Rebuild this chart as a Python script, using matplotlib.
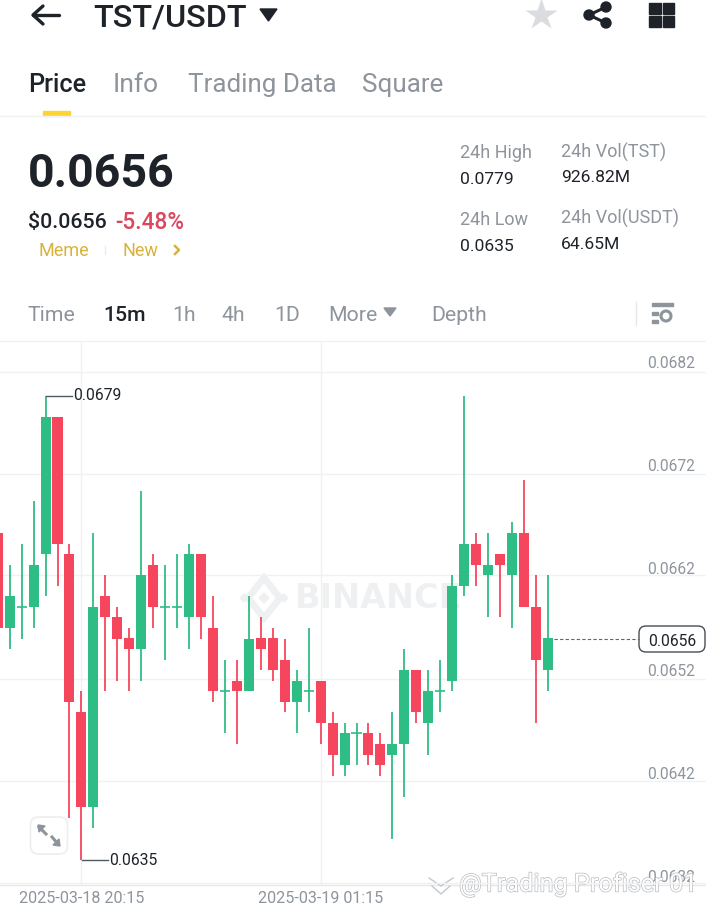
import matplotlib
matplotlib.use("Agg")
import matplotlib.pyplot as plt
import matplotlib.patheffects as pe
from matplotlib.patches import FancyBboxPatch, Polygon, Rectangle, Circle

plt.rcParams["font.family"] = ["Roboto", "DejaVu Sans"]

GREEN = "#2EBD85"
RED = "#F6465D"
DARK = "#1E2329"
GRAY = "#8E949C"
GRID = "#F0F1F2"
GOLD = "#D8B23A"
MARK = "#EFF0F1"

# candles, 15m (price ticks of 0.0001)
opens = [0.0666, 0.0657, 0.0659, 0.0659, 0.0664, 0.0677, 0.0664, 0.0649, 0.0640, 0.0660,
         0.0658, 0.0656, 0.0655, 0.0663, 0.0659, 0.0659, 0.0658, 0.0664, 0.0657, 0.0651,
         0.0652, 0.0651, 0.0656, 0.0656, 0.0654, 0.0650, 0.0651, 0.0652, 0.0648, 0.0644,
         0.0647, 0.0647, 0.0646, 0.0645, 0.0646, 0.0653, 0.0648, 0.0651, 0.0652, 0.0661,
         0.0665, 0.0662, 0.0664, 0.0662, 0.0666, 0.0659, 0.0653]
highs = [0.0666, 0.0663, 0.0665, 0.0669, 0.0679, 0.0677, 0.0665, 0.0651, 0.0666, 0.0662,
         0.0659, 0.0657, 0.0670, 0.0664, 0.0663, 0.0664, 0.0665, 0.0664, 0.0660, 0.0654,
         0.0654, 0.0660, 0.0658, 0.0657, 0.0656, 0.0653, 0.0657, 0.0652, 0.0649, 0.0648,
         0.0648, 0.0648, 0.0647, 0.0649, 0.0655, 0.0653, 0.0653, 0.0654, 0.0662, 0.0679,
         0.0666, 0.0666, 0.0664, 0.0667, 0.0671, 0.0662, 0.0662]
lows = [0.0657, 0.0655, 0.0656, 0.0657, 0.0660, 0.0661, 0.0639, 0.0635, 0.0638, 0.0651,
        0.0652, 0.0651, 0.0652, 0.0657, 0.0654, 0.0657, 0.0655, 0.0656, 0.0650, 0.0647,
        0.0646, 0.0651, 0.0653, 0.0652, 0.0649, 0.0647, 0.0649, 0.0646, 0.0643, 0.0643,
        0.0644, 0.0644, 0.0643, 0.0637, 0.0641, 0.0648, 0.0645, 0.0649, 0.0651, 0.0660,
        0.0661, 0.0658, 0.0658, 0.0657, 0.0659, 0.0648, 0.0651]
closes = [0.0657, 0.0660, 0.0659, 0.0663, 0.0677, 0.0665, 0.0650, 0.0640, 0.0659, 0.0658,
          0.0656, 0.0655, 0.0662, 0.0659, 0.0659, 0.0659, 0.0664, 0.0658, 0.0651, 0.0651,
          0.0651, 0.0656, 0.0655, 0.0653, 0.0650, 0.0652, 0.0651, 0.0648, 0.0645, 0.0647,
          0.0647, 0.0645, 0.0644, 0.0646, 0.0653, 0.0649, 0.0651, 0.0651, 0.0661, 0.0665,
          0.0663, 0.0663, 0.0663, 0.0666, 0.0659, 0.0654, 0.0656]

grid_prices = [0.06813, 0.06716, 0.06620, 0.06522, 0.06425, 0.06328]
grid_labels = ["0.0682", "0.0672", "0.0662", "0.0652", "0.0642", "0.0632"]
date_idx = [7, 27]
date_labels = ["2025-03-18 20:15", "2025-03-19 01:15"]
last_price = 0.0656
hi_idx, hi_price = 4, 0.0679
lo_idx, lo_price = 7, 0.0635

fig = plt.figure(figsize=(7.06, 9.05), dpi=100, facecolor="white")

# whole page in pixel coordinates, for the app chrome
ui = fig.add_axes([0, 0, 1, 1], zorder=1)
ui.set_xlim(0, 706)
ui.set_ylim(905, 0)
ui.axis("off")

# chart axes spans y=341..885 px
ax = fig.add_axes([0, (905 - 885) / 905, 1, (885 - 341) / 905], zorder=2)
ax.patch.set_alpha(0)
px_per_candle = 11.96
x0 = -2.3
ax.set_xlim((0 - x0) / px_per_candle, (706 - x0) / px_per_candle)
px_per_price = 105500
ax.set_ylim(last_price - (885 - 638.5) / px_per_price, last_price + (638.5 - 341) / px_per_price)
ax.axis("off")

# header
ui.plot([33, 59], [15, 15], color=DARK, lw=2.4, solid_capstyle="round")
ui.plot([43, 33, 43], [6, 15, 24], color=DARK, lw=2.4, solid_capstyle="round", solid_joinstyle="round")
ui.text(93, 18, "TST/USDT", fontsize=23.3, fontweight="medium", color=DARK, va="center")
ui.add_patch(Polygon([[260, 9], [277, 9], [268.5, 21]], closed=True, color=DARK))
ui.plot([540.5], [15], marker="*", ms=24, color="#DADCDF", mec="none")
ui.plot([606, 589, 606], [7, 15, 23], color=DARK, lw=2.2)
for cx, cy in [(606, 7), (589, 15), (606, 23)]:
    ui.add_patch(Circle((cx, cy), 5, color=DARK))
for rx, ry in [(649, 3), (662.5, 3), (649, 16), (662.5, 16)]:
    ui.add_patch(Rectangle((rx, ry), 11.5, 11, color=DARK))

# tabs
ui.text(28, 85, "Price", fontsize=18.2, fontweight="medium", color=DARK, va="center")
ui.text(113, 85, "Info", fontsize=19, color=GRAY, va="center")
ui.text(188, 85, "Trading Data", fontsize=18.7, color=GRAY, va="center")
ui.text(362, 85, "Square", fontsize=18.7, color=GRAY, va="center")
ui.add_patch(Rectangle((43, 111), 27, 5, color="#FCD535"))
ui.plot([0, 706], [116.5, 116.5], color=GRID, lw=1)

# price block
ui.text(28, 174, "0.0656", fontsize=33.5, fontweight="bold", color=DARK, va="center")
ui.text(28, 222, "$0.0656", fontsize=15.4, fontweight="medium", color=DARK, va="center")
ui.text(115, 222, "-5.48%", fontsize=16.3, fontweight="medium", color="#D9485F", va="center")
ui.text(38, 251, "Meme", fontsize=13, color=GOLD, va="center")
ui.text(123, 251, "New", fontsize=13, color=GOLD, va="center")
ui.plot([175, 179, 175], [246, 250, 254], color=GOLD, lw=1.8)
ui.plot([105, 105], [246, 254], color="#EAECEF", lw=1)

ui.text(460, 153, "24h High", fontsize=13, color=GRAY, va="center")
ui.text(460, 179, "0.0779", fontsize=12.6, color=DARK, va="center")
ui.text(460, 220, "24h Low", fontsize=13, color=GRAY, va="center")
ui.text(460, 246, "0.0635", fontsize=12.6, color=DARK, va="center")
ui.text(561, 152, "24h Vol(TST)", fontsize=13, color=GRAY, va="center")
ui.text(561, 178, "926.82M", fontsize=12.6, color=DARK, va="center")
ui.text(561, 218, "24h Vol(USDT)", fontsize=13, color=GRAY, va="center")
ui.text(561, 244, "64.65M", fontsize=12.6, color=DARK, va="center")

# interval row
ui.text(27, 315, "Time", fontsize=15.3, color=GRAY, va="center")
ui.text(103, 315, "15m", fontsize=15.3, fontweight="medium", color=DARK, va="center")
ui.text(172, 315, "1h", fontsize=15.3, color=GRAY, va="center")
ui.text(222, 315, "4h", fontsize=15.3, color=GRAY, va="center")
ui.text(274, 315, "1D", fontsize=15.3, color=GRAY, va="center")
ui.text(328, 315, "More", fontsize=15.3, color=GRAY, va="center")
ui.add_patch(Polygon([[384, 308], [396, 308], [390, 316]], closed=True, color=GRAY))
ui.text(431, 315, "Depth", fontsize=15.3, color=GRAY, va="center")
ui.plot([636, 636], [302, 325], color="#E6E8EA", lw=1)
ui.add_patch(Rectangle((652, 303), 21, 3, color=GRAY))
ui.add_patch(Rectangle((652, 312), 6, 3, color=GRAY))
ui.add_patch(Rectangle((652, 320), 6, 3, color=GRAY))
ui.add_patch(Circle((666, 316), 5, fc="white", ec=GRAY, lw=2.2))

# chart frame and exchange watermark
ui.plot([0, 706], [341, 341], color=GRID, lw=1)
ui.plot([0, 706], [884.5, 884.5], color="#E6E8EA", lw=1)
ui.text(295, 598, "BINANCE", fontsize=24, fontweight="bold", family="DejaVu Sans", color=MARK, va="center")
ui.add_patch(Polygon([[248, 598], [264, 578], [280, 598], [264, 618]], closed=True, fc="none", ec=MARK, lw=5))
ui.add_patch(Polygon([[259, 598], [264, 593], [269, 598], [264, 603]], closed=True, color=MARK))
ui.add_patch(Polygon([[280, 598], [284, 594], [288, 598], [284, 602]], closed=True, color=MARK))
ui.add_patch(Polygon([[240, 598], [244, 594], [248, 598], [244, 602]], closed=True, color=MARK))

# grid
for p in grid_prices:
    ax.axhline(p, color=GRID, lw=1, zorder=1)
for i in date_idx:
    ax.axvline(i, color=GRID, lw=1, zorder=1)

# candles
for i, (o, h, l, c) in enumerate(zip(opens, highs, lows, closes)):
    color = GREEN if c >= o else RED
    ax.vlines(i, l, h, color=color, lw=1.3, zorder=3)
    if o == c:
        ax.hlines(o, i - 0.42, i + 0.42, color=color, lw=1.2, zorder=3)
    else:
        ax.bar(i, abs(c - o), bottom=min(o, c), width=0.84, color=color, zorder=4)

# high / low callouts
line_color = "#4F5B5E"
ax.plot([hi_idx + 0.05, hi_idx + 2.25], [hi_price, hi_price], color=line_color, lw=1, zorder=3)
ax.text(hi_idx + 2.3, hi_price, f"{hi_price:.4f}", fontsize=11.3, color=DARK, va="center")
ax.plot([lo_idx + 0.05, lo_idx + 2.2], [lo_price, lo_price], color=line_color, lw=1, zorder=3)
ax.text(lo_idx + 2.3, lo_price, f"{lo_price:.4f}", fontsize=11.3, color=DARK, va="center")

# last price line
ax.plot([46.5, 53.6], [last_price, last_price], color="#5E6673", lw=0.8, ls=(0, (3, 2)), zorder=3)
ui.add_patch(FancyBboxPatch((639, 626), 66, 26, boxstyle="round,pad=0,rounding_size=7",
                            fc="white", ec="#474D57", lw=1, zorder=5))
ui.text(672, 641, f"{last_price:.4f}", fontsize=11.3, color=DARK, va="center", ha="center", zorder=6)

# price and time labels
for y, label in zip([363, 466, 569, 671, 774, 877], grid_labels):
    ui.text(695, y, label, fontsize=11.2, color=GRAY, va="center", ha="right")
for x, label in zip([82, 321], date_labels):
    ui.text(x, 898, label, fontsize=11.6, color=GRAY, va="center", ha="center")

# expand button
ui.add_patch(FancyBboxPatch((30.5, 817), 37, 37, boxstyle="round,pad=0,rounding_size=8",
                            fc="white", ec="#EDEEF0", lw=1.2, zorder=5))
for (x1, y1), (x2, y2), tip in [((46, 834), (39, 827), [(38, 825), (45, 826), (39, 832)]),
                                ((52, 837), (58, 844), [(60, 846), (53, 845), (59, 839)])]:
    ui.plot([x1, x2], [y1, y2], color="#8E949C", lw=2.2, zorder=6)
    ui.add_patch(Polygon(tip, closed=True, color="#8E949C", zorder=6))

# repost watermark, outlined white text
outline = [pe.withStroke(linewidth=1.0, foreground="#B7BBC0")]
wm = ui.text(459, 884, "@Trading Profiser 01", fontsize=18.2, color="white", va="center", zorder=7)
wm.set_path_effects(outline)
ui.plot([429, 441, 453], [878, 886, 878], color="#C4C7CB", lw=1, zorder=7)
ui.plot([432, 441, 450], [886, 894, 886], color="#C4C7CB", lw=1, zorder=7)

fig.savefig("out.png", dpi=100)
